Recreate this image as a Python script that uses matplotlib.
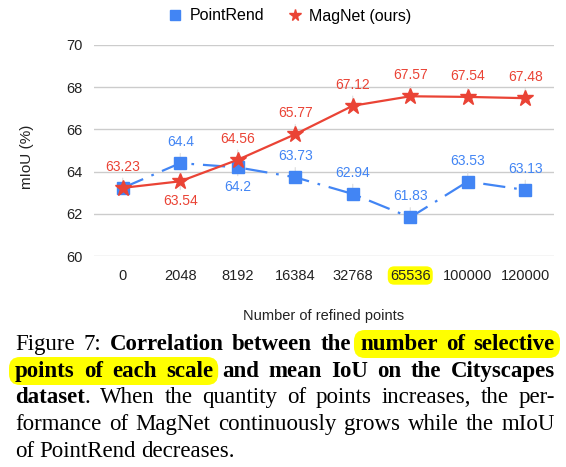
import matplotlib
matplotlib.use('Agg')
import matplotlib.pyplot as plt
from matplotlib.lines import Line2D
from matplotlib.patches import FancyBboxPatch
from matplotlib.transforms import IdentityTransform

# data
points = ['0', '2048', '8192', '16384', '32768', '65536', '100000', '120000']
pointrend = [63.23, 64.4, 64.2, 63.73, 62.94, 61.83, 63.53, 63.13]
magnet = [63.23, 63.54, 64.56, 65.77, 67.12, 67.57, 67.54, 67.48]
y_ticks = [60, 62, 64, 66, 68, 70]

# label placement: 1 = above, -1 = below, 0 = hidden
pointrend_side = [0, 1, -1, 1, 1, 1, 1, 1]
magnet_side = [1, -1, 1, 1, 1, 1, 1, 1]

blue = '#4285f4'
red = '#ea4335'
W, H = 566, 467

plt.rcParams['font.family'] = ['Liberation Sans', 'DejaVu Sans']

fig = plt.figure(figsize=(W / 100, H / 100), dpi=100)
ax = fig.add_axes([94 / W, 1 - 256 / H, (554 - 94) / W, (256 - 45) / H])

x = list(range(len(points)))
ax.plot(x, pointrend, color=blue, lw=1.6, linestyle=(0, (10, 4, 1.2, 4)),
        marker='s', markersize=8.5, zorder=3)
ax.plot(x, magnet, color=red, lw=1.6, marker='*', markersize=12, zorder=4)


def add_labels(vals, sides, color):
    for i, (v, s) in enumerate(zip(vals, sides)):
        if s == 0:
            continue
        off = 10 if s > 0 else -9
        ax.annotate(f'{v:g}', (i, v), xytext=(0, off), textcoords='offset points',
                    ha='center', va='bottom' if s > 0 else 'top',
                    fontsize=10, color=color, zorder=2,
                    arrowprops=dict(arrowstyle='-', color='#dddddd', lw=0.8,
                                    shrinkA=1, shrinkB=0))


add_labels(pointrend, pointrend_side, blue)
add_labels(magnet, magnet_side, red)

ax.set_xlim(-0.5, len(points) - 0.5)
ax.set_ylim(60, 70)
ax.set_yticks(y_ticks)
ax.set_xticks(x)
ax.set_xticklabels(points)
ax.tick_params(length=0, labelsize=10.5, labelcolor='#222222')
ax.tick_params(axis='x', pad=9)
ax.tick_params(axis='y', pad=8)
ax.grid(axis='y', color='#cccccc', lw=1)
ax.set_axisbelow(True)
for sp in ax.spines.values():
    sp.set_visible(False)

# highlighted tick
for lab in ax.get_xticklabels():
    if lab.get_text() == '65536':
        lab.set_bbox(dict(boxstyle='round,pad=0.15,rounding_size=0.45',
                          fc='#ffff00', ec='none'))

fig.text(27 / W, 1 - 157 / H, 'mIoU (%)', rotation=90, ha='center', va='center',
         fontsize=11, color='#222222')
fig.text(324 / W, 1 - 316 / H, 'Number of refined points', ha='center',
         va='center', fontsize=10.5, color='#222222')

handles = [Line2D([], [], color=blue, marker='s', ls='none', markersize=6.5),
           Line2D([], [], color=red, marker='*', ls='none', markersize=8.5)]
fig.legend(handles, ['PointRend', 'MagNet (ours)'], loc='center',
           bbox_to_anchor=(290 / W, 1 - 16 / H), ncol=2, frameon=False,
           fontsize=11.5, handlelength=0.8, handletextpad=0.5, columnspacing=1.5)

# caption, laid out word by word and justified like the paper
caption = [
    ([('Figure', 'normal', 0), ('7:', 'normal', 0), ('Correlation', 'bold', 0),
      ('between', 'bold', 0), ('the', 'bold', 0), ('number', 'bold', 1),
      ('of', 'bold', 1), ('selective', 'bold', 1)], True),
    ([('points', 'bold', 1), ('of', 'bold', 1), ('each', 'bold', 1),
      ('scale', 'bold', 1), ('and', 'bold', 0), ('mean', 'bold', 0),
      ('IoU', 'bold', 0), ('on', 'bold', 0), ('the', 'bold', 0),
      ('Cityscapes', 'bold', 0)], True),
    ([('dataset', 'bold', 0, '.'), ('When', 'normal', 0), ('the', 'normal', 0),
      ('quantity', 'normal', 0), ('of', 'normal', 0), ('points', 'normal', 0),
      ('increases,', 'normal', 0), ('the', 'normal', 0), ('per-', 'normal', 0)], True),
    ([('formance', 'normal', 0), ('of', 'normal', 0), ('MagNet', 'normal', 0),
      ('continuously', 'normal', 0), ('grows', 'normal', 0), ('while', 'normal', 0),
      ('the', 'normal', 0), ('mIoU', 'normal', 0)], True),
    ([('of', 'normal', 0), ('PointRend', 'normal', 0), ('decreases.', 'normal', 0)], False),
]
baselines = [350, 377, 403, 430, 457]
left, right = 15, 555
cap_font = dict(family=['Liberation Serif', 'DejaVu Serif'], fontsize=16.5,
                color='black')

renderer = fig.canvas.get_renderer()


def width_of(t):
    return t.get_window_extent(renderer).width


for (words, justify), base in zip(caption, baselines):
    yb = 1 - base / H
    arts = []
    widths = []
    for w in words:
        parts = [fig.text(0, yb, w[0], fontweight=w[1], va='baseline', **cap_font)]
        if len(w) > 3:
            parts.append(fig.text(0, yb, w[3], fontweight='normal', va='baseline',
                                  **cap_font))
        arts.append(parts)
        widths.append(sum(width_of(p) for p in parts))
    if justify:
        gap = (right - left - sum(widths)) / (len(words) - 1)
    else:
        gap = 5.2
    xpos = left
    spans = []
    for w, parts, wd in zip(words, arts, widths):
        xx = xpos
        for p in parts:
            p.set_x(xx / W)
            xx += width_of(p)
        if w[2]:
            spans.append((xpos, xpos + wd))
        xpos += wd + gap
    if spans:
        # pill-shaped marker highlight, in pixel coordinates
        x0 = spans[0][0] - 6
        x1 = spans[-1][1] + 5
        box = FancyBboxPatch((x0, H - (base + 8)), x1 - x0, 28,
                             boxstyle='round,pad=0,rounding_size=11',
                             transform=IdentityTransform(), fc='#ffff00',
                             ec='none', zorder=-1)
        fig.patches.append(box)

fig.savefig('out.png', dpi=100)
